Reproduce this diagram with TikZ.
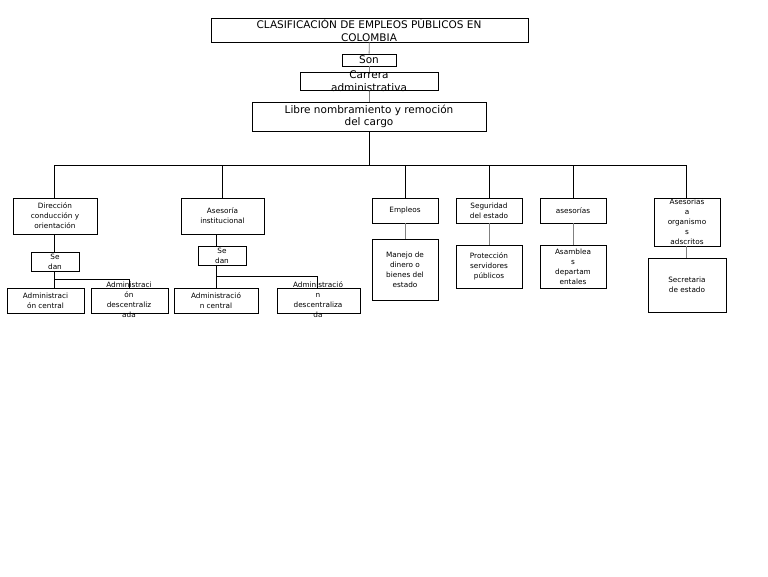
\documentclass[tikz,border=0pt]{standalone}
\usepackage{fontspec}
\setmainfont{DejaVu Sans}
\begin{document}
\begin{tikzpicture}[x=1pt,y=-1pt,
 box/.style={draw,line width=0.8pt,inner sep=0pt},
 t/.style={align=center,font=\fontsize{7.3}{10}\selectfont,inner sep=0pt},
 tb/.style={align=center,font=\fontsize{10.5}{12.5}\selectfont,inner sep=0pt},
 ln/.style={line width=0.8pt}]
\useasboundingbox (0,0) rectangle (768,576);
\newcommand{\bx}[5]{\node[box,minimum width=#4-#2,minimum height=#5-#3] (#1) at ({(#2+#4)/2},{(#3+#5)/2}) {};}
% top
\bx{tit}{211}{18}{528}{42}
\bx{son}{342}{54}{396}{66}
\bx{car}{300}{72}{438}{90}
\bx{lib}{252}{102}{486}{131}
\draw[ln,gray] (tit) -- (son); \draw[ln,gray] (son) -- (car); \draw[ln,gray] (car) -- (lib);
\node[tb] at (369,30) {CLASIFICACIÓN DE EMPLEOS PÚBLICOS EN\\COLOMBIA};
\node[tb] at (369,60) {Son};
\node[tb] at (369,81) {Carrera\\administrativa};
\node[tb] at (369,116.5) {Libre nombramiento y remoción\\del cargo};
% level 2
\bx{dir}{13}{198}{97}{234}
\bx{ase}{181}{198}{264}{234}
\bx{emp}{372}{198}{438}{223}
\bx{seg}{456}{198}{522}{223}
\bx{aso}{540}{198}{606}{223}
\bx{org}{654}{198}{720}{246}
\coordinate (h) at (369,165);
\draw[ln] (lib) -- (h);
\draw[ln] (54,165) -- (686,165);
\foreach \n/\x in {dir/54,ase/222,emp/405,seg/489,aso/573,org/686}{\draw[ln] (\x,165) -- (\n.north -| \x,0);}
\node[t] at (dir) {Dirección\\conducción y\\orientación};
\node[t] at (ase) {Asesoría\\institucional};
\node[t] at (emp) {Empleos};
\node[t] at (seg) {Seguridad\\del estado};
\node[t] at (aso) {asesorías};
\node[t] at (687,222) {Asesorías\\a\\organismo\\s\\adscritos};
% level 3 right
\bx{man}{372}{239}{438}{300}
\bx{pro}{456}{245}{522}{288}
\bx{asa}{540}{245}{606}{288}
\bx{sec}{648}{258}{726}{312}
\draw[ln,gray] (emp) -- (man); \draw[ln,gray] (seg) -- (pro);
\draw[ln,gray] (aso) -- (asa); \draw[ln,gray] (org.south -| 686,0) -- (sec.north -| 686,0);
\node[t] at (man) {Manejo de\\dinero o\\bienes del\\estado};
\node[t] at (pro) {Protección\\servidores\\públicos};
\node[t] at (573,267) {Asamblea\\s\\departam\\entales};
\node[t] at (sec) {Secretaria\\de estado};
% left branch
\bx{sd1}{31}{252}{79}{271}
\bx{ac1}{7}{288}{84}{313}
\bx{ad1}{91}{288}{168}{313}
\draw[ln] (dir.south -| 54,0) -- (sd1.north -| 54,0);
\draw[ln] (sd1.south -| 54,0) -- (54,279) -- (129,279) -- (129,288);
\draw[ln] (54,279) -- (ac1.north -| 54,0);
\node[t] at (55,261.5) {Se\\dan};
\node[t] at (45.5,300.5) {Administraci\\ón central};
\node[t] at (129,300) {Administraci\\ón\\descentraliz\\ada};
% middle branch
\bx{sd2}{198}{246}{246}{265}
\bx{ac2}{174}{288}{258}{313}
\bx{ad2}{277}{288}{360}{313}
\draw[ln] (ase.south -| 216,0) -- (sd2.north -| 216,0);
\draw[ln] (sd2.south -| 216,0) -- (216,276) -- (317,276) -- (317,288);
\draw[ln] (216,276) -- (ac2.north -| 216,0);
\node[t] at (222,255.5) {Se\\dan};
\node[t] at (216,300.5) {Administració\\n central};
\node[t] at (318,300) {Administració\\n\\descentraliza\\da};
\end{tikzpicture}
\end{document}
